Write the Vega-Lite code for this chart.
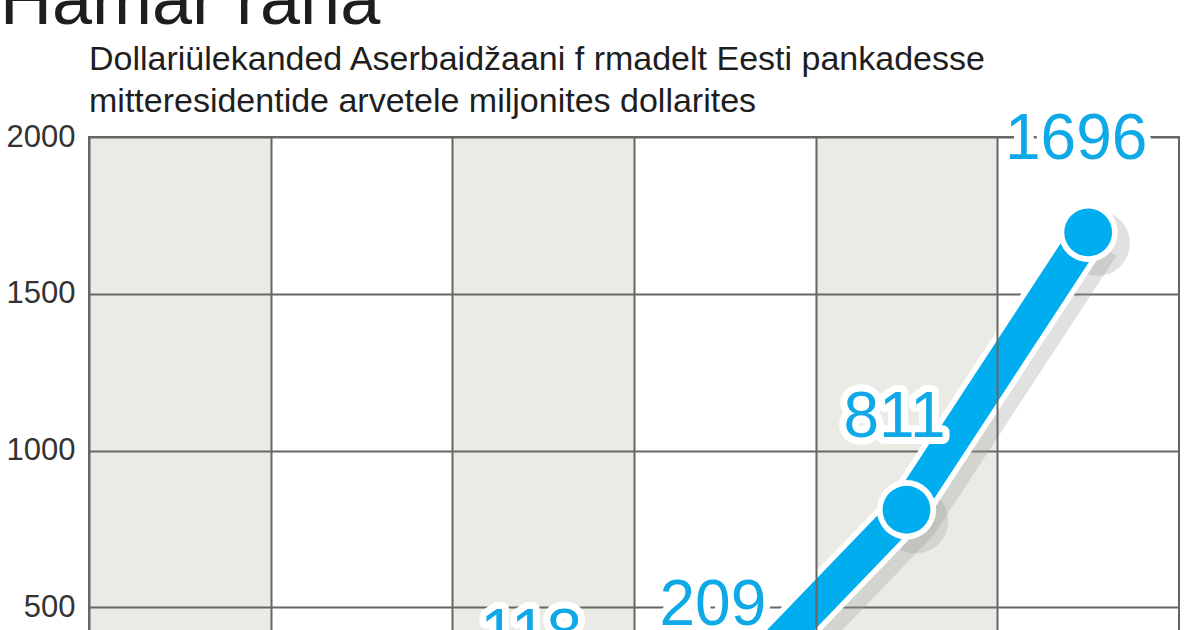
{
  "$schema": "https://vega.github.io/schema/vega-lite/v6.json",
  "padding": {"left": 0, "top": -34, "right": 0, "bottom": 0},
  "background": "white",
  "title": {
    "text": "Hämar raha",
    "anchor": "start",
    "fontSize": 72,
    "fontWeight": "normal",
    "font": "Liberation Sans",
    "color": "#1e1e1e",
    "dx": -5,
    "offset": 3
  },
  "datasets": {
    "transfers": [
      {"year": "2010", "value": 118},
      {"year": "2011", "value": 209},
      {"year": "2012", "value": 811},
      {"year": "2013", "value": 1696}
    ],
    "shaded": [
      {"year": "2008"},
      {"year": "2010"},
      {"year": "2012"}
    ]
  },
  "vconcat": [
    {
      "width": 1090,
      "height": 627,
      "title": {
        "text": [
          "Dollariülekanded Aserbaidžaani f rmadelt Eesti pankadesse",
          "mitteresidentide arvetele miljonites dollarites"
        ],
        "anchor": "start",
        "frame": "group",
        "fontSize": 34,
        "lineHeight": 42,
        "fontWeight": "normal",
        "font": "Liberation Sans",
        "color": "#1e1e1e",
        "offset": -11
      },
      "encoding": {
        "x": {
          "field": "year",
          "type": "ordinal",
          "scale": {
            "type": "band",
            "domain": ["2008", "2009", "2010", "2011", "2012", "2013"],
            "paddingInner": 0,
            "paddingOuter": 0
          },
          "axis": {
            "title": null,
            "grid": true,
            "gridColor": "#666666",
            "gridWidth": 2,
            "tickBand": "extent",
            "ticks": false,
            "domain": false,
            "labelFontSize": 31,
            "labelColor": "#333333",
            "labelFont": "Liberation Sans"
          }
        }
      },
      "layer": [
        {
          "data": {"name": "shaded"},
          "mark": {"type": "rect", "color": "#7a7a52", "fillOpacity": 0.15}
        },
        {
          "data": {"name": "transfers"},
          "encoding": {
            "x": {"field": "year", "type": "ordinal", "bandPosition": 0.5},
            "y": {
              "field": "value",
              "type": "quantitative",
              "scale": {"domain": [0, 2000], "nice": false},
              "axis": {
                "title": null,
                "values": [0, 500, 1000, 1500, 2000],
                "format": "d",
                "grid": true,
                "gridColor": "#666666",
                "gridWidth": 2,
                "ticks": false,
                "domain": false,
                "labelFontSize": 31,
                "labelColor": "#333333",
                "labelFont": "Liberation Sans",
                "labelPadding": 14
              }
            }
          },
          "layer": [
            {
              "mark": {"type": "line", "color": "#9a9a9a", "opacity": 0.3, "strokeWidth": 46, "xOffset": 9, "yOffset": 11, "strokeJoin": "round"}
            },
            {
              "mark": {"type": "circle", "color": "#9a9a9a", "opacity": 0.3, "size": 4300, "xOffset": 9, "yOffset": 11}
            },
            {
              "mark": {"type": "line", "color": "white", "strokeWidth": 45, "strokeJoin": "round"}
            },
            {
              "mark": {"type": "line", "color": "#00adef", "strokeWidth": 34, "strokeJoin": "round"}
            },
            {
              "mark": {"type": "circle", "color": "white", "opacity": 1, "size": 3526}
            },
            {
              "mark": {"type": "circle", "color": "#00adef", "opacity": 1, "size": 2290}
            },
            {
              "mark": {"type": "text", "fontSize": 64, "font": "Liberation Sans", "dx": -12, "dy": -92, "baseline": "middle", "align": "center", "stroke": "white", "strokeWidth": 14, "strokeJoin": "round", "fill": "white"},
              "encoding": {"text": {"field": "value", "type": "quantitative"}}
            },
            {
              "mark": {"type": "text", "fontSize": 64, "font": "Liberation Sans", "dx": -12, "dy": -92, "baseline": "middle", "align": "center", "fill": "#10a9e8"},
              "encoding": {"text": {"field": "value", "type": "quantitative"}}
            }
          ]
        }
      ]
    }
  ],
  "config": {
    "view": {"stroke": "#666666", "strokeWidth": 2}
  }
}
